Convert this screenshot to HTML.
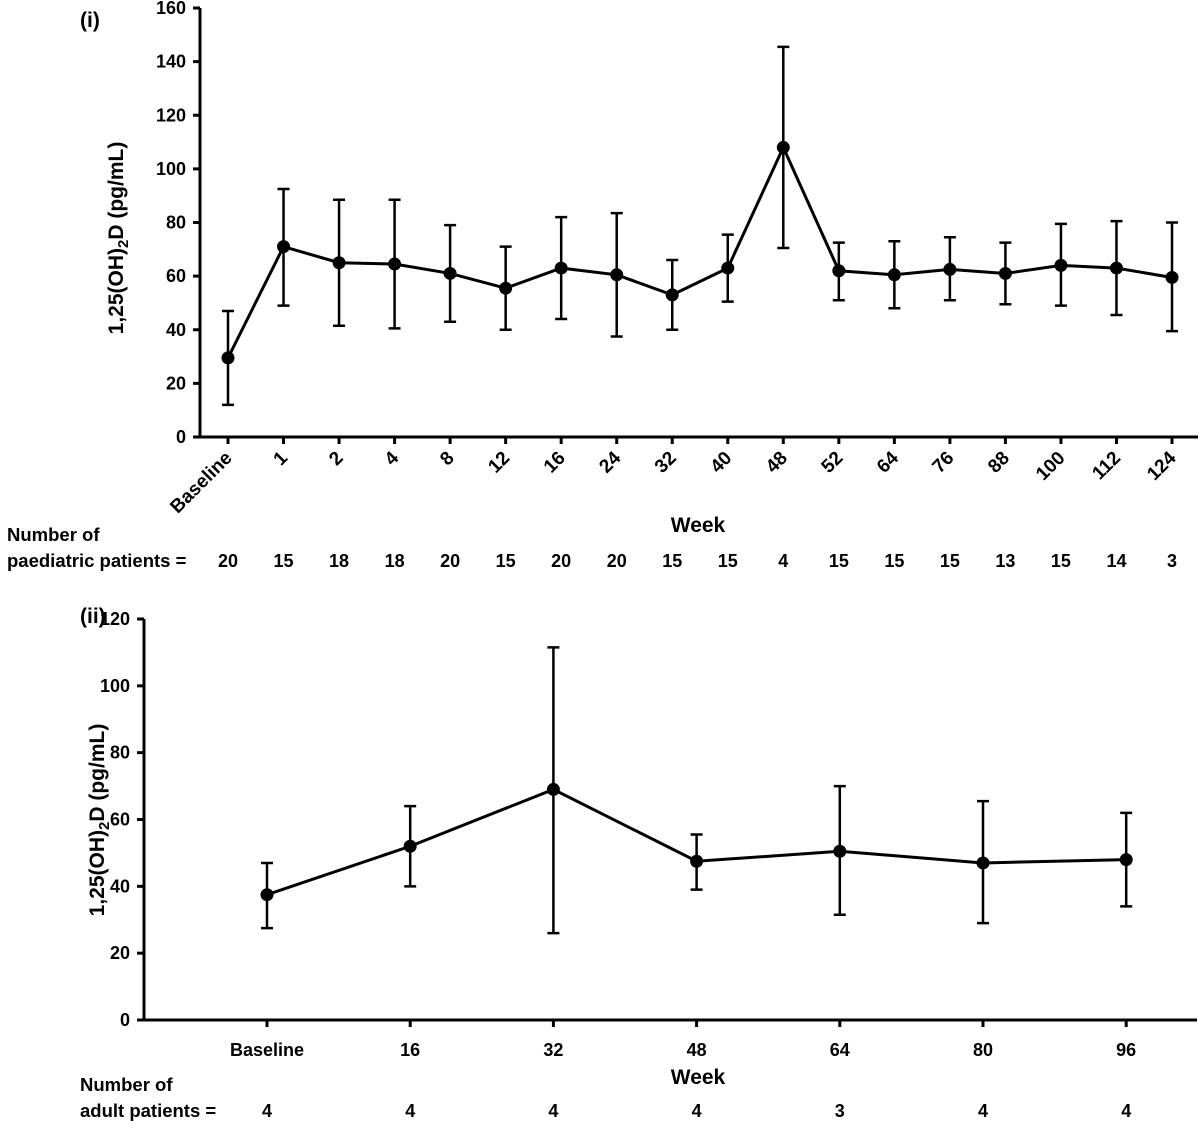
<!DOCTYPE html>
<html><head><meta charset="utf-8"><style>
body{margin:0;background:#fff}
svg text{font-family:"Liberation Sans",Arial,sans-serif;font-weight:bold;fill:#000}
</style></head><body>
<svg id="c" width="1200" height="1125" xmlns="http://www.w3.org/2000/svg"></svg>
<script>
const catsA=["Baseline","1","2","4","8","12","16","24","32","40","48","52","64","76","88","100","112","124"];
const meanA=[29.5,71,65,64.5,61,55.5,63,60.5,53,63,108,62,60.5,62.5,61,64,63,59.5];
const loA=[12,49,41.5,40.5,43,40,44,37.5,40,50.5,70.5,51,48,51,49.5,49,45.5,39.5];
const hiA=[47,92.5,88.5,88.5,79,71,82,83.5,66,75.5,145.5,72.5,73,74.5,72.5,79.5,80.5,80];
const nA=["20","15","18","18","20","15","20","20","15","15","4","15","15","15","13","15","14","3"];
const ticksA=[0,20,40,60,80,100,120,140,160];
const catsB=["Baseline","16","32","48","64","80","96"];
const meanB=[37.5,52,69,47.5,50.5,47,48];
const loB=[27.5,40,26,39,31.5,29,34];
const hiB=[47,64,111.5,55.5,70,65.5,62];
const nB=["4","4","4","4","3","4","4"];
const ticksB=[0,20,40,60,80,100,120];

const svg=document.getElementById('c');
function el(t,a,txt){const e=document.createElementNS('http://www.w3.org/2000/svg',t);for(const k in a)e.setAttribute(k,a[k]);if(txt!==undefined)e.textContent=txt;svg.appendChild(e);return e;}

function panel(o){
  const yS=v=>o.y0-(v-o.ymin)/(o.ymax-o.ymin)*(o.y0-o.y1);
  const xS=i=>o.xf+i*o.dx;
  let e;
  e=el('line',{x1:o.ax,y1:o.y1,x2:o.ax,y2:o.y0,stroke:'#000','stroke-width':3});
  
  
  e=el('line',{x1:o.ax,y1:o.y0,x2:o.xe,y2:o.y0,stroke:'#000','stroke-width':3});
  
  
  o.ticks.forEach(t=>{
    el('line',{x1:o.ax-7,y1:yS(t),x2:o.ax,y2:yS(t),stroke:'#000','stroke-width':3});
    e=el('text',{x:o.ax-14,y:yS(t)+6,'text-anchor':'end','font-size':18},t);
    
    
  });
  o.cats.forEach((c,i)=>{
    el('line',{x1:xS(i),y1:o.y0,x2:xS(i),y2:o.y0+7,stroke:'#000','stroke-width':3});
    if(o.rot){e=el('text',{x:xS(i)+5,y:o.y0+22,'text-anchor':'end','font-size':19,transform:`rotate(-45 ${xS(i)+5} ${o.y0+22})`},c);}
    else{e=el('text',{x:xS(i),y:o.y0+36,'text-anchor':'middle','font-size':18},c);}
    
    
    e=el('text',{x:xS(i),y:o.ny,'text-anchor':'middle','font-size':18},o.n[i]);
    
    
  });
  o.mean.forEach((m,i)=>{
    e=el('path',{d:`M${xS(i)-6},${yS(o.hi[i])}H${xS(i)+6}M${xS(i)},${yS(o.hi[i])}V${yS(o.lo[i])}M${xS(i)-6},${yS(o.lo[i])}H${xS(i)+6}`,stroke:'#000','stroke-width':2.5,fill:'none'});
    
    
  });
  e=el('polyline',{points:o.mean.map((m,i)=>xS(i)+','+yS(m)).join(' '),stroke:'#000','stroke-width':3,fill:'none'});
  
  
  o.mean.forEach((m,i)=>{
    e=el('circle',{cx:xS(i),cy:yS(m),r:6.5,fill:'#000'});
    
    
  });
}
panel({p:'paediatric',ax:200,xe:1198,y0:437,y1:8,ymin:0,ymax:160,xf:228,dx:55.53,cats:catsA,mean:meanA,lo:loA,hi:hiA,n:nA,ticks:ticksA,rot:true,ny:567});
panel({p:'adult',ax:144,xe:1197,y0:1020,y1:619,ymin:0,ymax:120,xf:267,dx:143.2,cats:catsB,mean:meanB,lo:loB,hi:hiB,n:nB,ticks:ticksB,rot:false,ny:1117});

function T(x,y,s,t,name,extra){const e=el('text',Object.assign({x:x,y:y,'font-size':s},extra||{}),t);return e;}
T(80,27,21,'(i)','panel-i-label');
T(80,623,21,'(ii)','panel-ii-label');
T(698,532,21,'Week','panel-i-x-axis-title',{'text-anchor':'middle'});
T(698,1084,21,'Week','panel-ii-x-axis-title',{'text-anchor':'middle'});
T(0,0,21,'','panel-i-y-axis-title',{transform:'translate(123,238) rotate(-90)','text-anchor':'middle'}).innerHTML='1,25(OH)<tspan font-size="15" dy="5">2</tspan><tspan dy="-5">D (pg/mL)</tspan>';
T(0,0,21,'','panel-ii-y-axis-title',{transform:'translate(104,820) rotate(-90)','text-anchor':'middle'}).innerHTML='1,25(OH)<tspan font-size="15" dy="5">2</tspan><tspan dy="-5">D (pg/mL)</tspan>';
T(7,541,18.5,'Number of','paediatric-count-label');
T(7,567,18.5,'paediatric patients =','paediatric-count-label-2');
T(80,1091,18.5,'Number of','adult-count-label');
T(80,1117,18.5,'adult patients =','adult-count-label-2');
</script>
</body></html>
